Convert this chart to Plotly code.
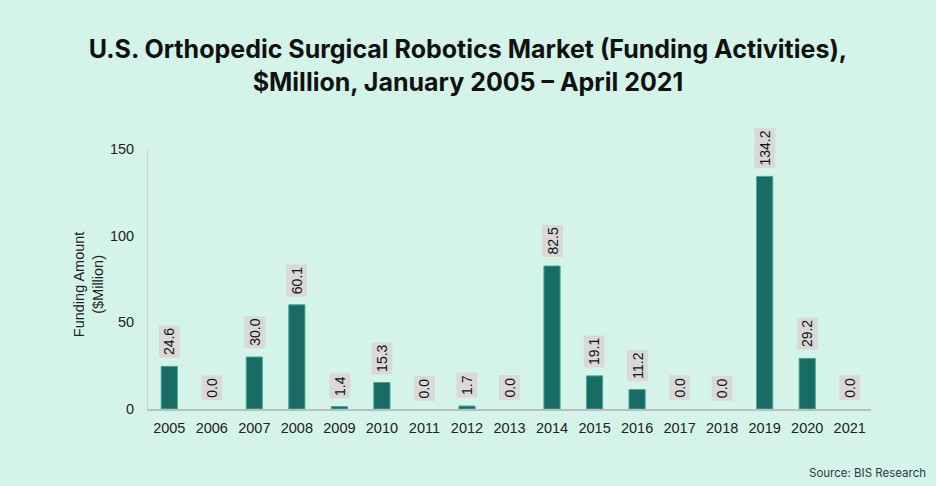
import plotly.graph_objects as go

years = ["2005", "2006", "2007", "2008", "2009", "2010", "2011", "2012", "2013",
         "2014", "2015", "2016", "2017", "2018", "2019", "2020", "2021"]
funding = [24.6, 0.0, 30.0, 60.1, 1.4, 15.3, 0.0, 1.7, 0.0,
           82.5, 19.1, 11.2, 0.0, 0.0, 134.2, 29.2, 0.0]
y_ticks = [0, 50, 100, 150]

BG = "#d4f4ea"
BAR = "#186c63"
BAR_EDGE = "#3fa898"

fig = go.Figure()
fig.add_trace(go.Bar(
    x=years, y=funding,
    marker=dict(color=BAR,
                line=dict(color=BAR_EDGE, width=[1 if v > 0 else 0 for v in funding])),
    width=0.38,
    hoverinfo="x+y",
))

for i, v in enumerate(funding):
    fig.add_annotation(
        x=i, y=v, xref="x", yref="y",
        text=f"{v:.1f}", textangle=-90,
        showarrow=False, yanchor="bottom", xanchor="center",
        yshift=8, bgcolor="#d9d9d9", borderpad=2,
        font=dict(family="Liberation Sans, Arial, sans-serif", size=14, color="#111111"),
    )

pw = 936 - 148 - 65
ph = 486 - 149 - 77

fig.add_annotation(
    x=-60 / pw, y=0.48, xref="paper", yref="paper",
    text="Funding Amount<br>($Million)", textangle=-90, showarrow=False,
    xanchor="center", yanchor="middle",
    font=dict(family="Liberation Sans, Arial, sans-serif", size=14.5, color="#222222"),
)

fig.add_annotation(
    x=(928 - 148) / pw, y=-(473 - 409) / ph, xref="paper", yref="paper", showarrow=False,
    xanchor="right", yanchor="middle",
    text="Source: BIS Research",
    font=dict(family="Inter, Roboto, sans-serif", size=11.5, color="#2b3a44"),
)

fig.update_layout(
    width=936, height=486,
    paper_bgcolor=BG, plot_bgcolor=BG,
    margin=dict(l=148, r=65, t=149, b=77),
    showlegend=False,
    title=dict(
        text="U.S. Orthopedic Surgical Robotics Market (Funding Activities),<br>$Million, January 2005 \u2013 April 2021",
        x=0.5, xanchor="center", y=1 - 58 / 486, yanchor="middle",
        font=dict(family="Inter, sans-serif", size=25, color="#111111", weight="bold"),
    ),
    xaxis=dict(
        type="category", range=[-0.5, len(years) - 0.5], autorange=False,
        showline=True, linecolor="#bdbdbd", linewidth=2,
        ticks="", ticklabelstandoff=5,
        tickfont=dict(family="Liberation Sans, Arial, sans-serif", size=14.5, color="#222222"),
        showgrid=False, zeroline=False,
    ),
    yaxis=dict(
        range=[0, 150], autorange=False, tickvals=y_ticks, showline=True, linecolor="#d0d0d0", linewidth=1,
        ticks="", ticklabelstandoff=10,
        tickfont=dict(family="Liberation Sans, Arial, sans-serif", size=14.5, color="#222222"),
        showgrid=False, zeroline=False,
    ),
)

fig.write_html("out.html")
